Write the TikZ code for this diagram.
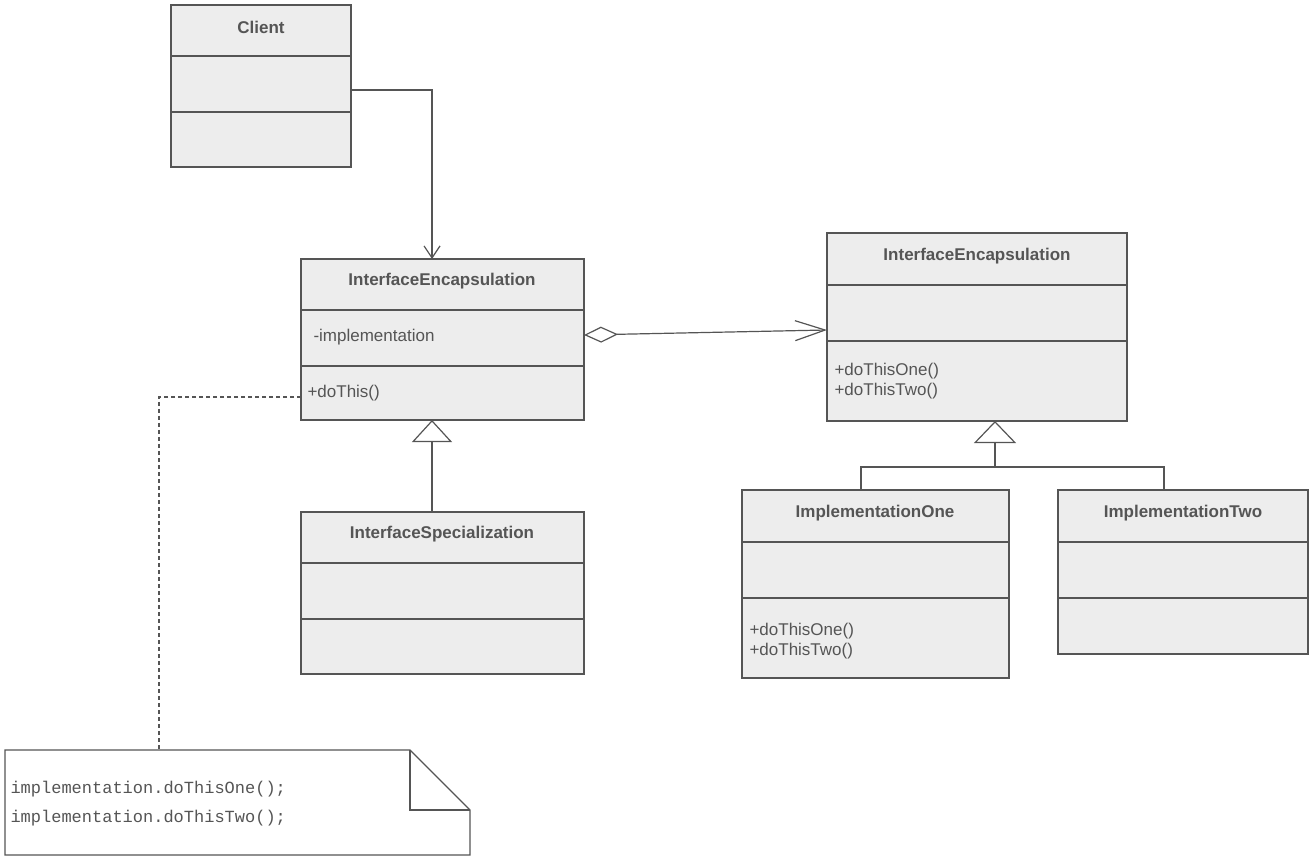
\documentclass[tikz,border=0pt]{standalone}
\usepackage{fontspec}
\setmainfont{Liberation Sans}
\setmonofont{Liberation Mono}
\usetikzlibrary{arrows.meta}
\definecolor{ln}{HTML}{555555}
\definecolor{bx}{HTML}{EDEDED}
\begin{document}
\begin{tikzpicture}[x=1pt,y=-1pt,
  box/.style={draw=ln,fill=bx,line width=1.2pt},
  ttl/.style={font=\bfseries\fontsize{17}{20}\selectfont,text=ln},
  mem/.style={font=\fontsize{17}{20}\selectfont,text=ln,anchor=west,align=left},
  con/.style={draw=ln,line width=1.2pt}]
\useasboundingbox (0,0) rectangle (1312,858);
\newcommand{\umlbox}[7]{% name x1 y1 x2 y2 d1 d2
  \draw[box] (#2,#3) rectangle (#4,#5);
  \draw[con] (#2,#6) -- (#4,#6) (#2,#7) -- (#4,#7);
  \coordinate (#1) at (#2,#3);}
\umlbox{cl}{171}{5}{351}{167}{56}{112}
\node[ttl] (clt) at (261,27) {Client};
\umlbox{iel}{301}{259}{584}{420}{310}{366}
\node[ttl] (ielt) at (442,281) {InterfaceEncapsulation};
\node[mem] (ielm) at (310,337) {-implementation};
\node[mem] (ielo) at (304,393) {+doThis()};
\umlbox{is}{301}{512}{584}{674}{563}{619}
\node[ttl] (ist) at (442,534) {InterfaceSpecialization};
\umlbox{ier}{827}{233}{1127}{421}{285}{341}
\node[ttl] (iert) at (977,256) {InterfaceEncapsulation};
\node[mem] (iero) at (831,381) {+doThisOne()\\+doThisTwo()};
\umlbox{i1}{742}{490}{1009}{678}{542}{598}
\node[ttl] (i1t) at (875,513) {ImplementationOne};
\node[mem] (i1o) at (746,641) {+doThisOne()\\+doThisTwo()};
\umlbox{i2}{1058}{490}{1308}{654}{542}{598}
\node[ttl] (i2t) at (1183,513) {ImplementationTwo};
% note
\draw[con,fill=white] (5,750) -- (410,750) -- (470,810) -- (470,855) -- (5,855) -- cycle;
\draw[con] (410,750) -- (410,810) -- (470,810);
\node[anchor=west,align=left,text=ln,font=\ttfamily\fontsize{17}{29}\selectfont] (nt) at (7,804) {implementation.doThisOne();\\implementation.doThisTwo();};
% connectors
\coordinate (a1) at (351,90); \coordinate (a2) at (432,90); \coordinate (a3) at (432,259);
\draw[con,-{Straight Barb[length=12pt,width=16pt]}] (a1) -- (a2) -- (a3);
\coordinate (g1) at (584,335); \coordinate (g2) at (827,330);
\draw[con,{Diamond[open,length=34pt,width=16pt,fill=white]}-{Straight Barb[length=30pt,width=20pt]}] (g1) -- (g2);
\coordinate (s1) at (432,512); \coordinate (s2) at (432,420);
\draw[con,-{Triangle[open,length=22pt,width=40pt,fill=white]}] (s1) -- (s2);
\coordinate (t1) at (995,467); \coordinate (t2) at (995,421);
\draw[con,-{Triangle[open,length=22pt,width=42pt,fill=white]}] (t1) -- (t2);
\draw[con] (861,490) -- (861,467) -- (1164,467) -- (1164,490);
\coordinate (d1) at (301,397); \coordinate (d2) at (159,397); \coordinate (d3) at (159,750);
\draw[draw=ln,line width=1.2pt,dash pattern=on 4pt off 3pt] (d1) -- (d2) -- (d3);
\end{tikzpicture}
\end{document}
